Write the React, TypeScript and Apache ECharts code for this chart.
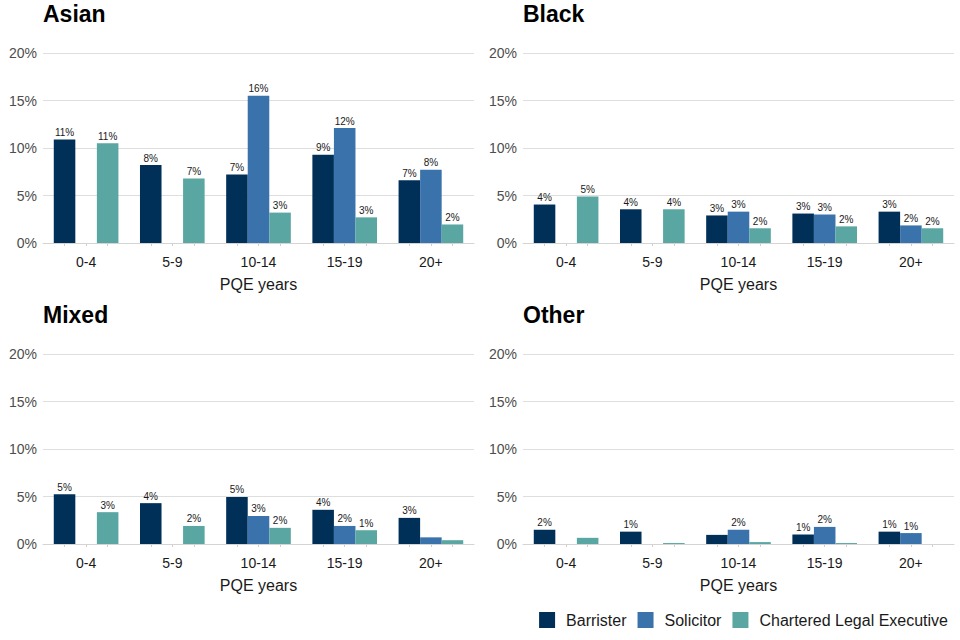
import React, { useEffect, useRef } from "react";
import * as echarts from "echarts";

const categories = ["0-4", "5-9", "10-14", "15-19", "20+"];
const panelTitles = ["Asian", "Black", "Mixed", "Other"];
const seriesNames = ["Barrister", "Solicitor", "Chartered Legal Executive"];

const asianBarrister = [10.9, 8.2, 7.2, 9.3, 6.6];
const asianSolicitor = [null, null, 15.5, 12.1, 7.7];
const asianCle = [10.5, 6.8, 3.2, 2.7, 1.95];

const blackBarrister = [4.05, 3.55, 2.9, 3.1, 3.3];
const blackSolicitor = [null, null, 3.3, 3.0, 1.85];
const blackCle = [4.9, 3.55, 1.55, 1.75, 1.55];

const mixedBarrister = [5.25, 4.3, 4.95, 3.6, 2.75];
const mixedSolicitor = [null, null, 2.95, 1.9, 0.7];
const mixedCle = [3.35, 1.9, 1.7, 1.45, 0.4];

const otherBarrister = [1.5, 1.3, 0.96, 1.0, 1.3];
const otherSolicitor = [null, null, 1.5, 1.8, 1.15];
const otherCle = [0.65, 0.1, 0.2, 0.1, null];

const panelData = [
  [asianBarrister, asianSolicitor, asianCle],
  [blackBarrister, blackSolicitor, blackCle],
  [mixedBarrister, mixedSolicitor, mixedCle],
  [otherBarrister, otherSolicitor, otherCle],
];

const colors = ["#003057", "#3a72ab", "#5aa6a2"];
const FONT = "Liberation Sans, Arial, sans-serif";

export default function App() {
  const ref = useRef<HTMLDivElement>(null);

  useEffect(() => {
    if (!ref.current) return;
    const chart = echarts.init(ref.current, undefined, { renderer: "svg" });

    const grids = [
      { left: 43, top: 53, width: 431, height: 190 },
      { left: 523, top: 53, width: 431, height: 190 },
      { left: 43, top: 354, width: 431, height: 190 },
      { left: 523, top: 354, width: 431, height: 190 },
    ];

    const tickValues: number[] = [];
    categories.forEach((_, i) => {
      tickValues.push(i - 0.25, i, i + 0.25);
    });

    const xAxes: any[] = [];
    const yAxes: any[] = [];
    const series: any[] = [];

    grids.forEach((_, gi) => {
      xAxes.push({
        type: "category",
        gridIndex: gi,
        data: categories,
        position: "bottom",
        axisLine: { show: true, lineStyle: { color: "#d4d4d4", width: 1 } },
        axisTick: { show: false },
        axisLabel: { color: "#1a1a1a", fontSize: 14, fontFamily: FONT, margin: 12 },
        name: "PQE years",
        nameLocation: "middle",
        nameGap: 33,
        nameTextStyle: { color: "#1a1a1a", fontSize: 16, fontFamily: FONT },
        z: 3,
      });
      yAxes.push({
        type: "value",
        gridIndex: gi,
        min: 0,
        max: 20,
        interval: 5,
        axisLine: { show: false },
        axisTick: { show: false },
        axisLabel: {
          color: "#4d4d4d",
          fontSize: 14,
          fontFamily: FONT,
          margin: 6,
          formatter: "{value}%",
        },
        splitLine: { show: true, lineStyle: { color: "#dedede", width: 1 } },
      });
    });

    grids.forEach((_, gi) => {
      xAxes.push({
        type: "value",
        gridIndex: gi,
        position: "bottom",
        min: -0.5,
        max: categories.length - 0.5,
        axisLine: { show: false },
        splitLine: { show: false },
        axisLabel: { show: false },
        axisTick: {
          show: true,
          customValues: tickValues,
          length: 3,
          lineStyle: { color: "#d0d0d0", width: 1 },
        },
      });
    });

    panelData.forEach((panel, gi) => {
      panel.forEach((vals, si) => {
        series.push({
          type: "bar",
          name: seriesNames[si],
          xAxisIndex: gi,
          yAxisIndex: gi,
          data: vals,
          barGap: "0%",
          barCategoryGap: "25%",
          itemStyle: { color: colors[si] },
          label: {
            show: true,
            position: "top",
            distance: 2,
            fontSize: 10,
            fontFamily: FONT,
            color: "#1a1a1a",
            formatter: (p: any) =>
              p.value == null || p.value < 1 ? "" : Math.round(p.value) + "%",
          },
        });
      });
    });

    const titlePos = [
      [43, 14],
      [523, 14],
      [43, 315],
      [523, 315],
    ];

    chart.setOption({
      animation: false,
      backgroundColor: "#ffffff",
      grid: grids,
      xAxis: xAxes,
      yAxis: yAxes,
      series,
      legend: {
        data: seriesNames,
        right: 12,
        top: 612,
        padding: 0,
        icon: "rect",
        itemWidth: 16,
        itemHeight: 16,
        itemGap: 11,
        textStyle: {
          color: "#1a1a1a",
          fontSize: 16,
          fontFamily: FONT,
          padding: [0, 0, 0, 6],
        },
      },
      graphic: panelTitles.map((t, i) => ({
        type: "text",
        x: titlePos[i][0],
        y: titlePos[i][1],
        style: {
          text: t,
          fontSize: 23,
          fontWeight: "bold",
          fontFamily: FONT,
          fill: "#000000",
          verticalAlign: "middle",
          align: "left",
        },
      })),
    });

    return () => chart.dispose();
  }, []);

  return (
    <div
      ref={ref}
      style={{ position: "absolute", left: 0, top: 0, width: 960, height: 640 }}
    />
  );
}
